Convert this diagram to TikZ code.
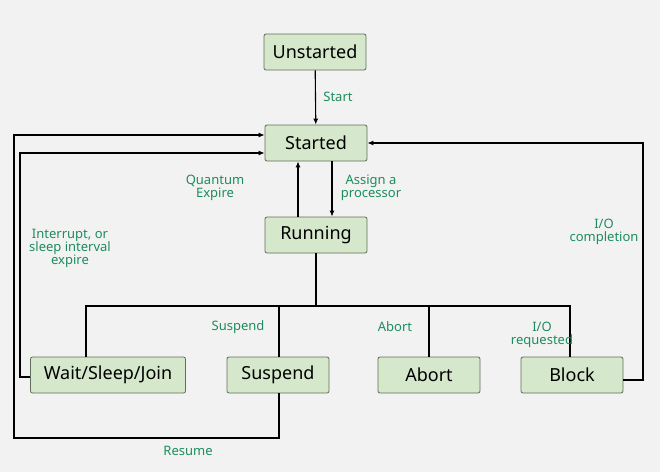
\documentclass[tikz,border=0pt]{standalone}
\usepackage{fontspec}
\setmainfont{Noto Sans}
\usetikzlibrary{arrows.meta}
\definecolor{bg}{HTML}{F2F2F2}
\definecolor{boxf}{HTML}{D5E8CC}
\definecolor{boxd}{HTML}{5F6E5A}
\definecolor{lab}{HTML}{1E8C5E}
\begin{document}
\begin{tikzpicture}[x=1pt,y=-1pt,
  st/.style={draw=boxd,fill=boxf,rounded corners=2pt,minimum width=102pt,minimum height=36pt,font=\fontsize{18}{20}\selectfont,line width=0.8pt,inner xsep=2pt},
  lb/.style={text=lab,font=\fontsize{13}{15}\selectfont,align=center},
  ar/.style={-{Latex[length=6pt,width=5pt]},line width=1.1pt},
  ln/.style={line width=1.1pt}]
\fill[bg] (0,0) rectangle (660,472);
\useasboundingbox (0,0) rectangle (660,472);
\node[st] (un) at (315,52) {Unstarted};
\node[st] (sta) at (316,143) {Started};
\node[st] (run) at (316,235) {Running};
\node[st,minimum width=155pt] (wait) at (108,375) {Wait/Sleep/Join};
\node[st] (sus) at (278,375) {Suspend};
\node[st] (ab) at (429,375) {Abort};
\node[st] (bl) at (572,375) {Block};
\coordinate (bus) at (316,306);
\draw[ar] (un) -- (sta);
\draw[ar] (run.north -| 298,0) -- (sta.south -| 298,0);
\draw[ar] (sta.south -| 332,0) -- (run.north -| 332,0);
\draw[ln] (run) -- (bus);
\draw[ln] (86,357) |- (570,306) -- (570,357);
\draw[ln] (279,306) -- (279,357);
\draw[ln] (429,306) -- (429,357);
\draw[ar] (wait.west |- 0,377) -- (20,377) -- (20,153) -- (sta.west |- 0,153);
\draw[ar] (279,393) -- (279,438) -- (14,438) -- (14,135) -- (sta.west |- 0,135);
\draw[ar] (bl.east |- 0,380) -- (643,380) -- (643,143) -- (sta.east);
\node[lb] at (338,97) {Start};
\node[lb] at (215,188) {Quantum\\[-2pt]Expire};
\node[lb] at (371,188) {Assign a\\[-2pt]processor};
\node[lb] at (70,248) {Interrupt, or\\[-2pt]sleep interval\\[-2pt]expire};
\node[lb] at (604,232) {I/O\\[-2pt]completion};
\node[lb] at (238,327) {Suspend};
\node[lb] at (395,327) {Abort};
\node[lb] at (542,335) {I/O\\[-2pt]requested};
\node[lb] at (188,451) {Resume};
\end{tikzpicture}
\end{document}
